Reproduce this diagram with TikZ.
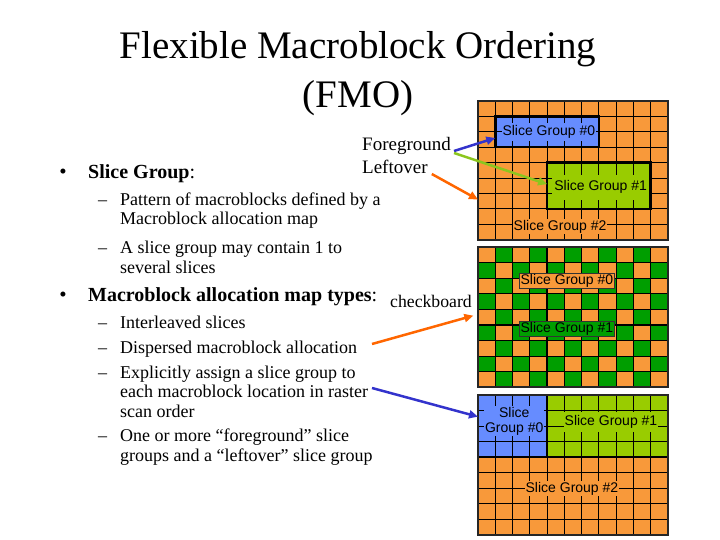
\documentclass[tikz,border=0pt]{standalone}
\usepackage{fontspec}
\setmainfont{Liberation Serif}
\newfontfamily\mbsans{Liberation Sans}
\usetikzlibrary{positioning,arrows.meta}
\definecolor{mborange}{RGB}{248,153,58}
\definecolor{mblime}{RGB}{153,204,0}
\definecolor{mbblue}{RGB}{102,140,255}
\definecolor{mbgreen}{RGB}{0,158,0}
\definecolor{ptblue}{RGB}{51,51,204}
\definecolor{ptlime}{RGB}{140,198,30}
\definecolor{ptorange}{RGB}{255,102,0}

\begin{document}
\begin{tikzpicture}[x=1pt, y=-1pt,
        fmotitle/.style={anchor=base, inner sep=0pt, font=\fontsize{39}{47}\selectfont},
        lvlone/.style={anchor=base west, inner sep=0pt, font=\fontsize{20}{24}\selectfont},
        lvltwo/.style={anchor=base west, inner sep=0pt, font=\fontsize{18}{20}\selectfont},
        mbbullet/.style={anchor=base, inner sep=0pt, font=\fontsize{21}{24}\selectfont},
        pointer/.style={anchor=base west, inner sep=0pt, font=\fontsize{19}{23}\selectfont},
        sg/.style={font=\mbsans\fontsize{14}{15}\selectfont, inner sep=1pt, align=center},
        mbcell/.style={black, line width=0.9pt},
        mbframe/.style={black!85, line width=2pt},
        mbborder/.style={black, line width=2.5pt},
        mbarrow/.style={line width=2.5pt, -{Triangle[length=9pt,width=8pt]}}]

    \useasboundingbox (0,0) rectangle (720,540);

    % title
    \node[fmotitle] (title) at (358,59) {Flexible Macroblock Ordering};
    \node[fmotitle] (fmo) at (358,108) {(FMO)};

    % bullets
    \node[mbbullet] (d1) at (63,179) {•};
    \node[lvlone] (sgroup) at (88,179) {\textbf{Slice Group}:};
    \node[lvltwo] (s1) at (98,205.5) {–};
    \node[lvltwo] (pat) at (120,205.5) {Pattern of macroblocks defined by a};
    \node[lvltwo] (pat2) at (120,225) {Macroblock allocation map};
    \node[lvltwo] (s2) at (98,253.5) {–};
    \node[lvltwo] (may) at (120,253.5) {A slice group may contain 1 to};
    \node[lvltwo] (may2) at (120,273) {several slices};
    \node[mbbullet] (d2) at (63,301.5) {•};
    \node[lvlone] (types) at (88,301.5) {\textbf{Macroblock allocation map types}:};
    \node[lvltwo] (s3) at (98,328.5) {–};
    \node[lvltwo] (inter) at (120,328.5) {Interleaved slices};
    \node[lvltwo] (s4) at (98,353.5) {–};
    \node[lvltwo] (disp) at (120,353.5) {Dispersed macroblock allocation};
    \node[lvltwo] (s5) at (98,378) {–};
    \node[lvltwo] (expl) at (120,378) {Explicitly assign a slice group to};
    \node[lvltwo] (expl2) at (120,397.5) {each macroblock location in raster};
    \node[lvltwo] (expl3) at (120,417) {scan order};
    \node[lvltwo] (s6) at (98,441.5) {–};
    \node[lvltwo] (fgr) at (120,441.5) {One or more “foreground” slice};
    \node[lvltwo] (fgr2) at (120,461) {groups and a “leftover” slice group};

    % pointers
    \node[pointer] (fore) at (362,151) {Foreground};
    \node[pointer] (lefto) at (362,174) {Leftover};
    \node[pointer, font=\fontsize{17.7}{20}\selectfont] (check) at (390,307) {checkboard};
    \coordinate (dispfrom) at (372,344);
    \coordinate (explfrom) at (372,388);

    % foreground and leftover
    \begin{scope}[shift={(478,101)}, x=17.27pt, y=-15.4pt]
        \fill[mborange] (0,0) rectangle (11,9);
        \fill[mbblue] (1,1) rectangle (7,3);
        \fill[mblime] (4,4) rectangle (10,7);
        \foreach \c in {1,...,10} \draw[mbcell] (\c,0) -- (\c,9);
        \foreach \r in {1,...,8} \draw[mbcell] (0,\r) -- (11,\r);
        \node[sg, fill=mbblue, minimum height=18pt] (a0) at (4.1,2) {Slice Group \#0};
        \node[sg, fill=mblime, minimum height=25pt, minimum width=98pt] (a1) at (7.1,5.6) {Slice Group \#1};
        \node[sg, fill=mborange] (a2) at (4.75,8.15) {Slice Group \#2};
        \draw[mbborder] (1,1) rectangle (7,3);
        \draw[mbborder] (4,4) rectangle (10,7);
        \draw[mbframe] (0,0) rectangle (11,9);
        \coordinate (a0in) at (1,2.4);
        \coordinate (a1in) at (4,5.4);
        \coordinate (a2in) at (0,6.4);
    \end{scope}

    % checkerboard
    \begin{scope}[shift={(478,247)}, x=17.27pt, y=-15.6pt]
        \fill[mborange] (0,0) rectangle (11,9);
        \foreach \c in {0,...,10} \foreach \r in {0,...,8} {
            \pgfmathtruncatemacro\odd{mod(\c+\r,2)}
            \ifnum\odd=1 \fill[mbgreen] (\c,\r) rectangle ++(1,1); \fi
        }
        \foreach \c in {1,...,10} \draw[mbcell, line width=1.2pt] (\c,0) -- (\c,9);
        \foreach \r in {1,...,8} \draw[mbcell, line width=1.2pt] (0,\r) -- (11,\r);
        \node[sg, fill=mborange, draw=black!80, thick] (b0) at (5.15,2.19) {Slice Group \#0};
        \node[sg, fill=mbgreen, draw=black!80, thick] (b1) at (5.15,5.23) {Slice Group \#1};
        \draw[mbframe] (0,0) rectangle (11,9);
        \coordinate (bin) at (-0.27,4.4);
    \end{scope}

    % explicit
    \begin{scope}[shift={(478,395)}, x=17.27pt, y=-15.5pt]
        \fill[mborange] (0,0) rectangle (11,9);
        \fill[mbblue] (0,0) rectangle (4,4);
        \fill[mblime] (4,0) rectangle (11,4);
        \foreach \c in {1,...,10} \draw[mbcell] (\c,0) -- (\c,9);
        \foreach \r in {1,...,8} \draw[mbcell] (0,\r) -- (11,\r);
        \node[sg, fill=mbblue] (c0) at (2.1,1.68) {Slice\\Group \#0};
        \node[sg, fill=mblime, minimum height=20pt] (c1) at (7.7,1.74) {Slice Group \#1};
        \node[sg, fill=mborange] (c2) at (5.44,6.06) {Slice Group \#2};
        \draw[mbborder] (4,0) -- (4,4);
        \draw[mbborder] (0,4) -- (11,4);
        \draw[mbframe] (0,0) rectangle (11,9);
        \coordinate (cin) at (0,1.4);
    \end{scope}

    \draw[mbarrow, ptblue] ([xshift=3pt]fore.base east) -- (a0in);
    \draw[mbarrow, ptlime] ([xshift=3pt,yshift=-2pt]fore.base east) -- (a1in);
    \draw[mbarrow, ptorange] ([xshift=4pt]lefto.base east) -- (a2in);
    \draw[mbarrow, ptorange] (dispfrom) -- (bin);
    \draw[mbarrow, ptblue] (explfrom) -- (cin);
\end{tikzpicture}
\end{document}
